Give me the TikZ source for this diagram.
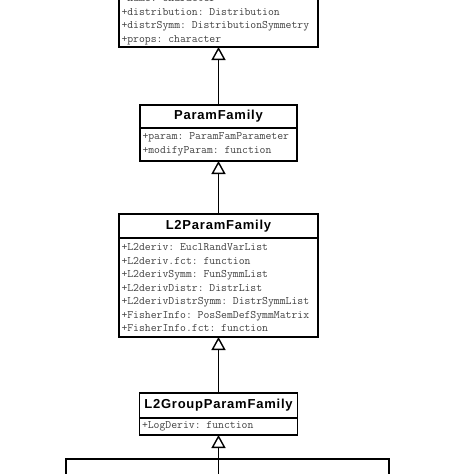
\documentclass[tikz,border=0pt]{standalone}
\usepackage{fontspec}
\newfontfamily\headfont[LetterSpace=6]{Liberation Sans}
\usetikzlibrary{positioning,arrows.meta}

\begin{document}
\begin{tikzpicture}[x=1pt,y=-1pt,
    classhead/.style={draw,line width=1.6pt,outer sep=0pt,inner sep=0pt,
      font=\headfont\bfseries\fontsize{13}{15}\selectfont},
    classbody/.style={draw,line width=1.6pt,outer sep=0pt,inner xsep=2.5pt,inner ysep=0pt,
      align=left,text=black!75,font=\ttfamily\fontsize{11.4}{13.5}\selectfont},
    inherit/.style={line width=1.4pt,-{Triangle[open,width=14pt,length=13pt]}},
    branch/.style={line width=1.4pt}]
  \clip (0,0) rectangle (474,474);
  % top class, its name lies above the frame
  \node[classbody,text width=194pt,minimum height=54pt] (pb) at (218.5,20)
    {+name: character\\+distribution: Distribution\\+distrSymm: DistributionSymmetry\\+props: character};
  % ParamFamily
  \node[classhead,minimum width=157pt,minimum height=23pt] (pfh) at (218.5,116.5) {ParamFamily};
  \node[classbody,text width=152pt,minimum height=33pt,below=0pt of pfh] (pfb)
    {+param: ParamFamParameter\\+modifyParam: function};
  % L2ParamFamily
  \node[classhead,minimum width=199pt,minimum height=24pt] (l2h) at (218.5,226) {L2ParamFamily};
  \node[classbody,text width=194pt,minimum height=99pt,below=0pt of l2h] (l2b)
    {+L2deriv: EuclRandVarList\\+L2deriv.fct: function\\+L2derivSymm: FunSymmList\\+L2derivDistr: DistrList\\
     +L2derivDistrSymm: DistrSymmList\\+FisherInfo: PosSemDefSymmMatrix\\+FisherInfo.fct: function};
  % L2GroupParamFamily
  \node[classhead,minimum width=158pt,minimum height=25pt] (l2gh) at (218.5,405.5) {L2GroupParamFamily};
  \node[classbody,text width=153pt,minimum height=17pt,below=0pt of l2gh] (l2gb) {+LogDeriv: function};

  \draw[inherit] (pfh.north) -- (pb.south);
  \draw[inherit] (l2h.north) -- (pfb.south);
  \draw[inherit] (l2gh.north) -- (l2b.south);

  % branches to the subclasses
  \coordinate (barL) at (66,459);
  \coordinate (barR) at (389,459);
  \coordinate (subL) at (66,478);
  \coordinate (subM) at (218.5,478);
  \coordinate (subR) at (389,478);
  \draw[inherit] (subM) -- (l2gb.south);
  \draw[branch] (subL) -- (barL) -- (barR) -- (subR);
\end{tikzpicture}
\end{document}
